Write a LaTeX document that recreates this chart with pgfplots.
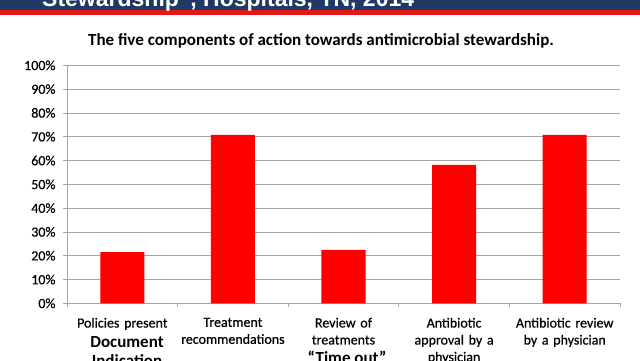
\documentclass[border=0pt]{standalone}
\usepackage{pgfplots}
\pgfplotsset{compat=1.18}
\usepackage{fontspec}
\setmainfont{Carlito}
\newfontfamily\axisfont[FakeBold=0.5]{Carlito}
\newfontfamily\arialfont{Liberation Sans}
\definecolor{navy}{RGB}{31,56,100}
\definecolor{slidered}{RGB}{228,22,22}
\definecolor{gridgray}{RGB}{165,165,165}
\definecolor{barred}{RGB}{255,0,0}
\begin{document}
\begin{tikzpicture}[x=1pt,y=1pt]
\path[use as bounding box] (0,0) rectangle (640,360);
\clip (0,0) rectangle (640,360);
\fill[white] (0,0) rectangle (640,360);
\fill[navy] (0,350) rectangle (640,360);
\fill[slidered] (0,345) rectangle (640,350);
\node[anchor=base west, text=white, font=\arialfont\bfseries\fontsize{23}{27}\selectfont, inner sep=0pt] at (42,354) {Stewardship”, Hospitals, TN, 2014};
\node[anchor=base, font=\bfseries\fontsize{17}{20}\selectfont, inner sep=0pt] at (321,315) {The five components of action towards antimicrobial stewardship.};
\begin{axis}[
  at={(67pt,56.7pt)}, anchor=south west,
  scale only axis, width=553pt, height=238pt,
  ybar, bar width=44pt,
  xmin=-0.5, xmax=4.5, ymin=0, ymax=100,
  axis x line*=bottom, axis y line*=left,
  axis line style={gridgray, line width=0.8pt},
  ytick={0,10,...,100},
  yticklabels={0\%,10\%,20\%,30\%,40\%,50\%,60\%,70\%,80\%,90\%,100\%},
  ymajorgrids, grid style={gridgray, line width=0.8pt},
  tick align=outside, major tick length=4pt,
  tick style={gridgray, line width=0.8pt},
  xtick={-0.5,0.5,...,4.5}, xticklabels={},
  extra x ticks={0,1,2,3,4},
  extra x tick labels={Policies present, Treatment\\recommendations, Review of\\treatments, Antibiotic\\approval by a\\physician, Antibiotic review\\by a physician},
  extra x tick style={major tick length=0pt, x tick label style={align=center, text width=110pt, yshift=-11pt, font=\axisfont\fontsize{14}{17}\selectfont}},
  tick label style={font=\axisfont\fontsize{14}{17}\selectfont},
  /pgf/number format/assume math mode=true,
  y tick label style={xshift=-4pt},
]
\addplot[fill=barred, draw=none] coordinates {(0,21.5) (1,70.8) (2,22.4) (3,58.2) (4,70.8)};
\end{axis}
\node[anchor=base, font=\bfseries\fontsize{17}{20}\selectfont, inner sep=0pt] at (127,13) {Document};
\node[anchor=base, font=\bfseries\fontsize{17}{20}\selectfont, inner sep=0pt] at (127,-6) {Indication};
\node[anchor=base, font=\bfseries\fontsize{17}{20}\selectfont, inner sep=0pt] at (347,-3) {“Time out”};
\end{tikzpicture}
\end{document}
